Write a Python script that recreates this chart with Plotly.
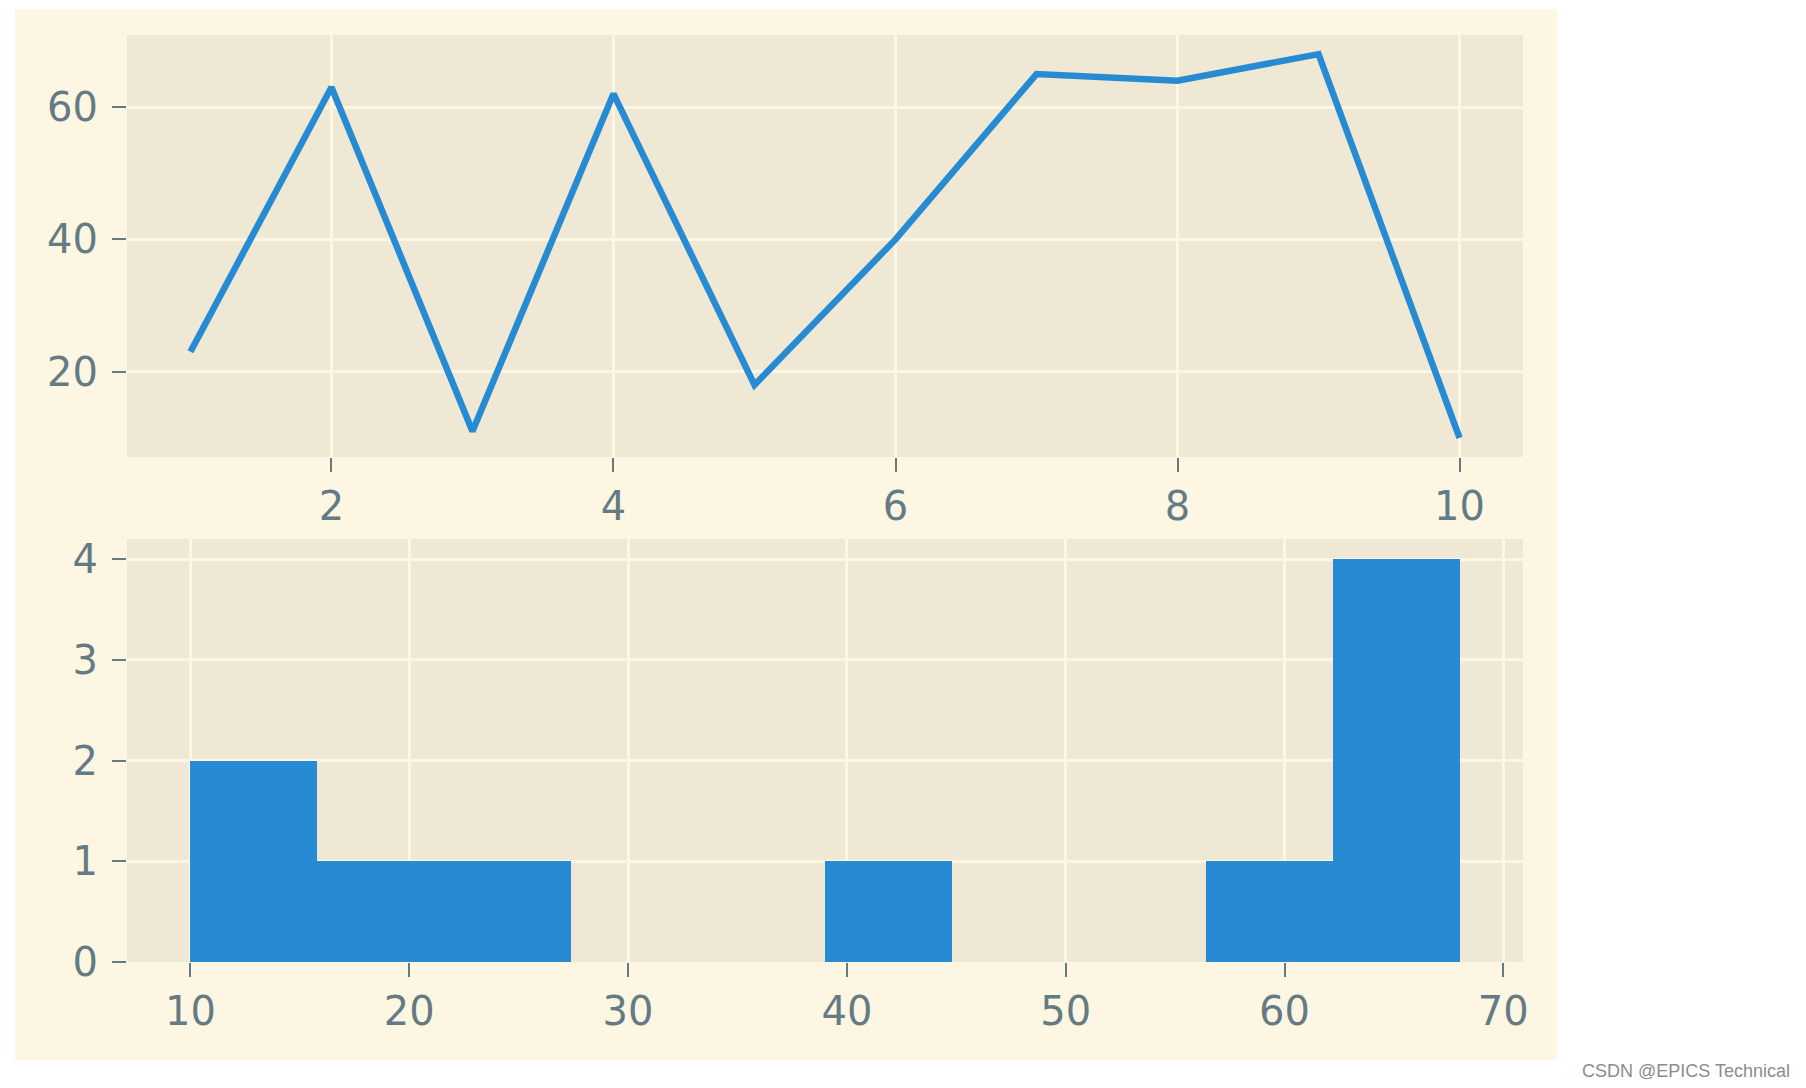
import numpy as np
import plotly.graph_objects as go
from plotly.subplots import make_subplots

# ---- data ----
x_vals = [1, 2, 3, 4, 5, 6, 7, 8, 9, 10]
y_vals = [23, 63, 11, 62, 18, 40, 65, 64, 68, 10]
hist_bins = 10
top_xticks = [2, 4, 6, 8, 10]
top_yticks = [20, 40, 60]
bot_xticks = [10, 20, 30, 40, 50, 60, 70]
bot_yticks = [0, 1, 2, 3, 4]
watermark = "CSDN @EPICS Technical"

# ---- style ----
OFF = 8  # browser body margin
W, H = 1806 - OFF, 1088 - OFF
L, R, T, B = 127 - OFF, 1523 - OFF, 35 - OFF, 962 - OFF  # plot area pixel box
PAPER = "#fdf6e3"
AXBG = "#eee8d5"
TXT = "#657b83"
BLUE = "#268bd2"
FONT = "DejaVu Sans"

def px(xp):
    return (xp - OFF - L) / (R - L)

def py(yp):
    return (B - (yp - OFF)) / (B - T)

counts, edges = np.histogram(y_vals, bins=hist_bins)
centers = (edges[:-1] + edges[1:]) / 2
widths = np.diff(edges)

fig = make_subplots(rows=2, cols=1)
fig.add_trace(go.Scatter(x=x_vals, y=y_vals, mode="lines",
                         line=dict(color=BLUE, width=6.5), hoverinfo="skip",
                         showlegend=False), row=1, col=1)
fig.add_trace(go.Bar(x=centers, y=counts, width=widths,
                     marker=dict(color=BLUE, line=dict(width=0)),
                     showlegend=False), row=2, col=1)

axis_common = dict(showgrid=True, gridcolor=PAPER, gridwidth=2.5,
                   zeroline=False, showline=False, ticks="outside",
                   ticklen=14, tickwidth=2, tickcolor=TXT,
                   tickfont=dict(family=FONT, size=40, color=TXT))

y_span = max(y_vals) - min(y_vals)
x_span = max(x_vals) - min(x_vals)
e_span = edges[-1] - edges[0]

fig.update_layout(
    width=W, height=H,
    margin=dict(l=L, r=W - R, t=T, b=H - B),
    paper_bgcolor=PAPER, plot_bgcolor=AXBG,
    bargap=0,
    xaxis=dict(domain=[0, 1], range=[min(x_vals) - 0.05 * x_span, max(x_vals) + 0.05 * x_span],
               tickvals=top_xticks, ticklabelstandoff=0, **axis_common),
    yaxis=dict(domain=[py(457), 1], range=[min(y_vals) - 0.05 * y_span, max(y_vals) + 0.05 * y_span],
               tickvals=top_yticks, ticklabelstandoff=6, **axis_common),
    xaxis2=dict(domain=[0, 1], range=[edges[0] - 0.05 * e_span, edges[-1] + 0.05 * e_span],
                tickvals=bot_xticks, ticklabelstandoff=0, **axis_common),
    yaxis2=dict(domain=[0, py(539)], range=[0, max(counts) * 1.05],
                tickvals=bot_yticks, ticklabelstandoff=6, **axis_common),
)

# white surround outside the figure (cream) area
white = dict(type="rect", xref="paper", yref="paper", fillcolor="white",
             line=dict(width=0), layer="above")
fig.add_shape(x0=px(-20), x1=px(15), y0=py(1100), y1=py(-20), **white)
fig.add_shape(x0=px(-20), x1=px(1820), y0=py(9), y1=py(-20), **white)
fig.add_shape(x0=px(1557), x1=px(1820), y0=py(1100), y1=py(-20), **white)
fig.add_shape(x0=px(-20), x1=px(1820), y0=py(1100), y1=py(1060), **white)

fig.add_annotation(text=watermark, xref="paper", yref="paper",
                   x=px(1792), y=py(1071), xanchor="right", yanchor="middle",
                   showarrow=False,
                   font=dict(family="Liberation Sans", size=18, color="#8c8c8c"))

fig.write_html("out.html")
